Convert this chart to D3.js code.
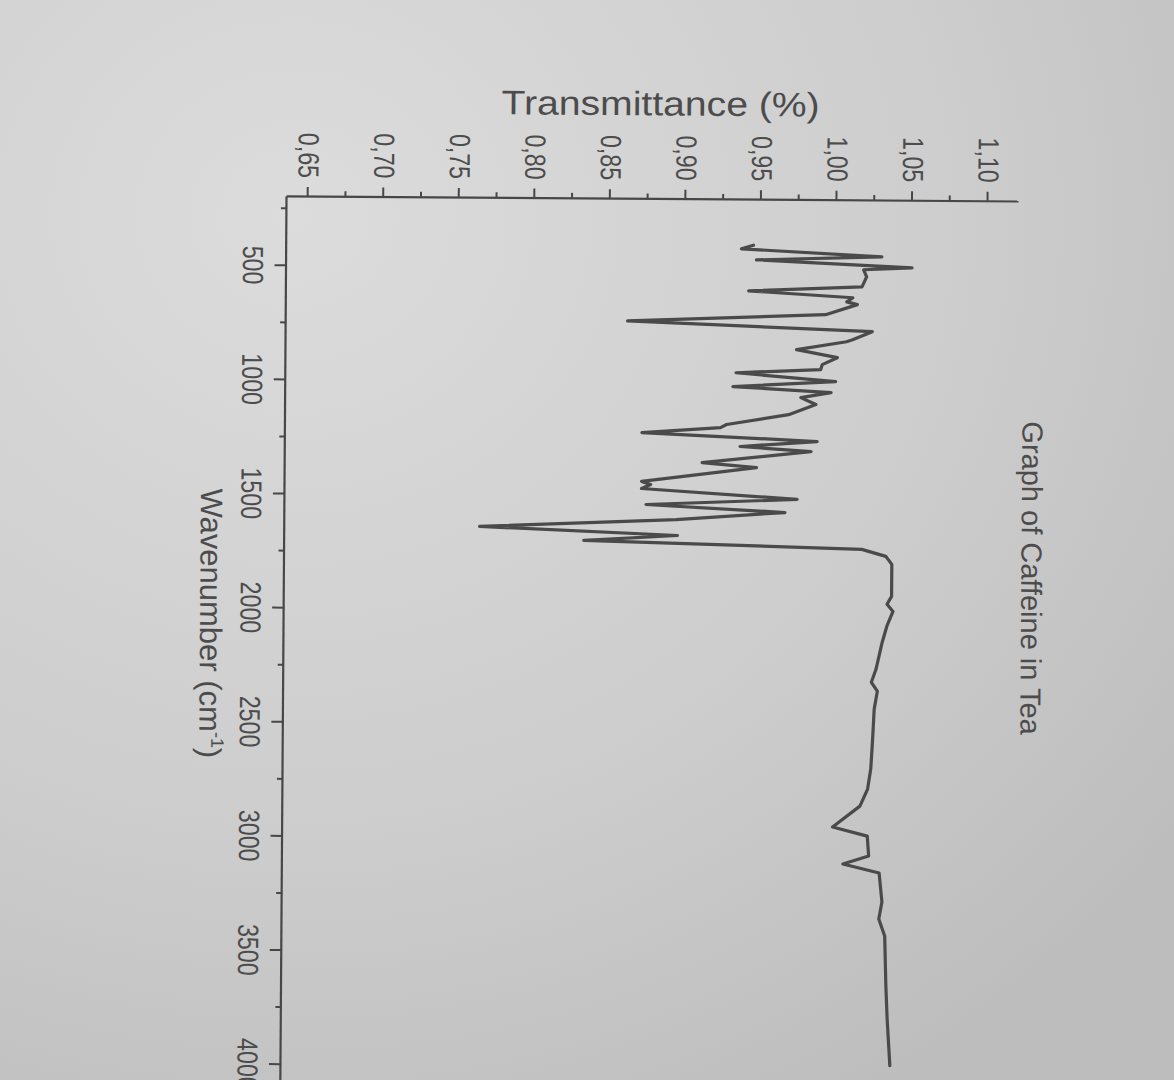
<!DOCTYPE html>
<html>
<head>
<meta charset="utf-8">
<script src="https://cdn.jsdelivr.net/npm/d3@7"></script>
<style>
  html, body { margin: 0; padding: 0; background: #cfcfcf; }
  svg { display: block; }
</style>
</head>
<body>
<svg id="chart" width="1174" height="1080"></svg>
<script>
// ---- data ----
const wavenumber = [400, 416, 447, 464, 494, 504, 535, 579, 600, 627, 645, 657, 702, 735, 775, 811, 820, 856, 890, 921,
  943, 959, 995, 1020, 1043, 1066, 1096, 1141, 1186, 1200, 1224, 1258, 1282, 1302, 1354, 1374, 1438, 1451, 1469, 1512,
  1539, 1570, 1604, 1640, 1674, 1698, 1729, 1759, 1794, 1903, 1934, 1969, 2000, 2065, 2135, 2254, 2311, 2350, 2429, 2573,
  2691, 2779, 2854, 2946, 2985, 3072, 3108, 3146, 3273, 3348, 3422, 3640, 3785, 3990];
const transmittance = [0.945, 0.937, 1.030, 0.947, 1.050, 1.018, 1.020, 1.017, 0.942, 1.011, 1.007, 1.014, 0.993, 0.862, 1.024, 1.011, 1.007, 0.974, 1.001, 0.991,
  0.990, 0.934, 1.000, 0.932, 0.997, 0.977, 0.987, 0.969, 0.928, 0.924, 0.872, 0.988, 0.937, 0.984, 0.912, 0.948, 0.872, 0.878, 0.872, 0.975,
  0.875, 0.967, 0.895, 0.765, 0.896, 0.834, 1.018, 1.034, 1.038, 1.038, 1.038, 1.035, 1.039, 1.035, 1.032, 1.028, 1.025, 1.029, 1.027, 1.026,
  1.025, 1.023, 1.018, 1.000, 1.023, 1.024, 1.007, 1.031, 1.033, 1.031, 1.035, 1.036, 1.037, 1.039];

const wnTicks = [500, 1000, 1500, 2000, 2500, 3000, 3500, 4000];
const wnMinorTicks = [250, 750, 1250, 1750, 2250, 2750, 3250, 3750];
const tTicks = [0.65, 0.70, 0.75, 0.80, 0.85, 0.90, 0.95, 1.00, 1.05, 1.10];
const tTickLabels = ["0,65", "0,70", "0,75", "0,80", "0,85", "0,90", "0,95", "1,00", "1,05", "1,10"];
const tMinorTicks = [0.675, 0.725, 0.775, 0.825, 0.875, 0.925, 0.975, 1.025, 1.075];

const chartTitle = "Graph of Caffeine in Tea";
const xTitle = "Wavenumber (cm";
const xTitleSup = "-1";
const yTitle = "Transmittance (%)";

// ---- layout (chart photographed rotated ~90° clockwise) ----
const W = 900, H = 732;
const svg = d3.select("#chart");

const defs = svg.append("defs");
const grad = defs.append("radialGradient").attr("id", "paper")
  .attr("cx", "25%").attr("cy", "20%").attr("r", "95%");
grad.append("stop").attr("offset", "0%").attr("stop-color", "#dcdcdc");
grad.append("stop").attr("offset", "60%").attr("stop-color", "#cdcdcd");
grad.append("stop").attr("offset", "100%").attr("stop-color", "#bdbdbd");
svg.append("rect").attr("width", 1174).attr("height", 1080).attr("fill", "url(#paper)");

const g = svg.append("g").attr("transform", "translate(1019,201) rotate(90.4)");

const x = d3.scaleLinear().domain([198, 4141]).range([0, W]);
const y = d3.scaleLinear().domain([0.636, 1.1205]).range([H, 0]);

const ink = "#474747";
const textInk = "#4c4c4c";
const sans = "'Liberation Sans', Arial, sans-serif";
const tickFs = 29;
// condensed look: Arial glyph widths squeezed to ~82%
const glyphW = ch => ch === "," ? 0.278 : 0.556;
const condensedLen = s => tickFs * 0.8 * Array.from(s).reduce((a, c) => a + glyphW(c), 0);

// wavenumber axis (minor + major)
g.append("g").attr("transform", `translate(0,${H})`)
  .call(d3.axisBottom(x).tickValues(wnMinorTicks).tickSize(6).tickSizeOuter(0).tickFormat(""))
  .call(s => s.select(".domain").remove());
g.append("g").attr("transform", `translate(0,${H})`)
  .call(d3.axisBottom(x).tickValues(wnTicks).tickSize(12).tickSizeOuter(0).tickPadding(11).tickFormat(d3.format("d")));

// transmittance axis (minor + major)
g.append("g")
  .call(d3.axisLeft(y).tickValues(tMinorTicks).tickSize(5).tickSizeOuter(0).tickFormat(""))
  .call(s => s.select(".domain").remove());
g.append("g")
  .call(d3.axisLeft(y).tickValues(tTicks).tickSize(9).tickSizeOuter(0).tickPadding(9)
    .tickFormat((d, i) => tTickLabels[i]));

g.selectAll(".domain").attr("stroke", ink).attr("stroke-width", 2.2);
g.selectAll(".tick line").attr("stroke", ink).attr("stroke-width", 2);
g.selectAll(".tick text").attr("fill", textInk).attr("font-family", sans).attr("font-size", tickFs)
  .attr("lengthAdjust", "spacingAndGlyphs")
  .attr("textLength", function () { return condensedLen(this.textContent); });

// spectrum
const line = d3.line().x((d, i) => x(wavenumber[i])).y((d, i) => y(transmittance[i]));
g.append("path").datum(wavenumber).attr("d", line)
  .attr("fill", "none").attr("stroke", "#4a4a4a").attr("stroke-width", 3.2)
  .attr("stroke-linejoin", "round").attr("stroke-linecap", "round");

// titles
g.append("text").attr("x", 377).attr("y", -5).attr("text-anchor", "middle")
  .attr("font-family", sans).attr("font-size", 29).attr("fill", textInk).text(chartTitle);

const xt = g.append("text").attr("x", 428).attr("y", H + 84).attr("text-anchor", "middle")
  .attr("font-family", sans).attr("font-size", 31).attr("fill", textInk);
xt.append("tspan").text(xTitle);
xt.append("tspan").attr("font-size", 18).attr("dy", -12).text(xTitleSup);
xt.append("tspan").attr("dy", 12).text(")");

g.append("text").attr("transform", `translate(-95,${359}) rotate(-90)`)
  .attr("text-anchor", "middle").attr("dy", "0.35em")
  .attr("font-family", sans).attr("font-size", 34).attr("fill", textInk)
  .attr("textLength", 318).attr("lengthAdjust", "spacingAndGlyphs")
  .text(yTitle);
</script>
</body>
</html>
